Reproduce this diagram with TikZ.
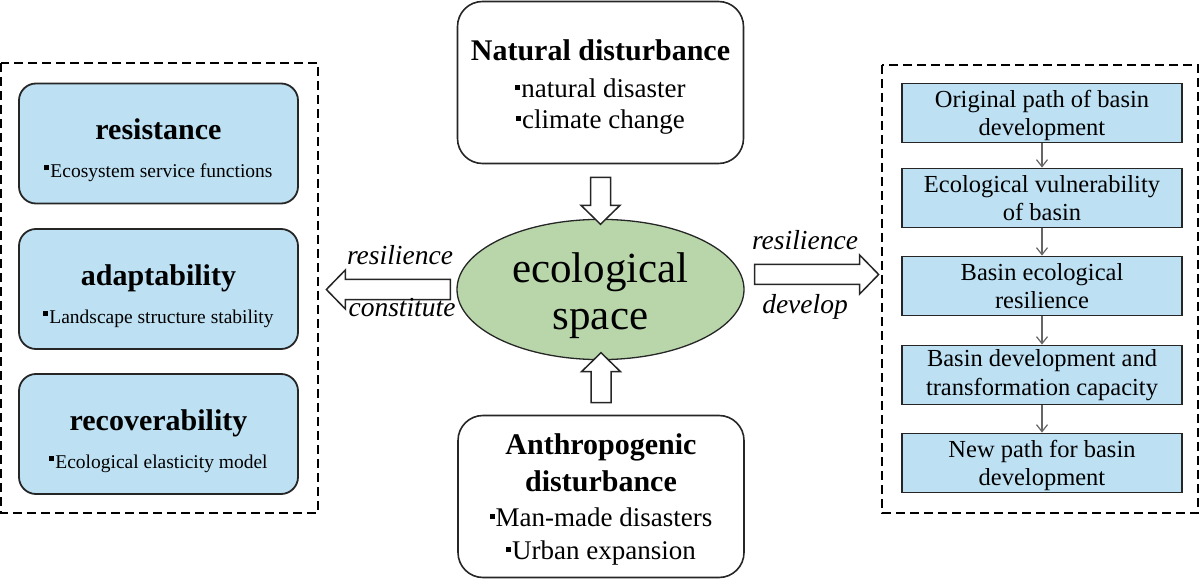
\documentclass[tikz,border=0pt]{standalone}
\usepackage{fontspec}
\setmainfont{Liberation Serif}
\usetikzlibrary{shapes.geometric,arrows.meta}

\definecolor{paleblue}{RGB}{189,225,243}
\definecolor{palegreen}{RGB}{184,214,170}

% small square bullet and a strut that lowers the text block
\newcommand{\sqb}{\raisebox{7.5pt}{\rule{5pt}{5pt}}\hspace{1pt}}
\newcommand{\topstrut}[1]{\rule{0pt}{#1}}

% hollow block arrow: start, rotation, length
\newcommand{\hollowarrow}[3]{%
  \draw[hollow, shift={(#1)}, rotate=#2] (0,-10) -- ({#3-19},-10) -- ({#3-19},-19.5) -- (#3,0)
    -- ({#3-19},19.5) -- ({#3-19},10) -- (0,10) -- cycle;}

\tikzset{
  frame/.style={draw, line width=1.6pt, dash pattern=on 9pt off 5pt},
  softbox/.style={
    draw=black!85,
    line width=1.8pt,
    rounded corners=17pt,
    fill=paleblue,
    minimum width=279pt,
    minimum height=120pt,
    align=center,
    font=\fontsize{19.5}{38}\selectfont,
  },
  distbox/.style={
    draw=black!85,
    line width=1.6pt,
    rounded corners=25pt,
    minimum width=286pt,
    minimum height=162pt,
    align=center,
  },
  stepbox/.style={
    draw=black!85,
    line width=1.8pt,
    fill=paleblue,
    minimum width=280pt,
    minimum height=59pt,
    inner sep=0pt,
    align=center,
    font=\fontsize{24.5}{28.5}\selectfont,
  },
  core/.style={ellipse, draw=black!85, fill=palegreen, line width=1.3pt,
    minimum width=287pt, minimum height=115pt, inner sep=0pt, align=center,
    font=\fontsize{43}{47}\selectfont},
  hollow/.style={draw=black!85, line width=1.5pt, fill=white},
  link/.style={-{Straight Barb[length=7pt,width=11pt]}, draw=black!60, line width=1.2pt},
  tag/.style={font=\fontsize{27.5}{30}\selectfont\itshape},
}

\begin{document}
\begin{tikzpicture}[x=1pt,y=-1pt]
  \useasboundingbox (0,0) rectangle (1200,580);

  % left: the three capacities
  \draw[frame] (1,63) rectangle (318,513);
  \node (resist) [softbox] at (158.5,143.5) {{\fontsize{30}{38}\selectfont\bfseries\topstrut{35pt}resistance}\\\sqb Ecosystem service functions};
  \node (adapt) [softbox] at (158.5,289) {{\fontsize{30}{38}\selectfont\bfseries\topstrut{35pt}adaptability}\\\sqb Landscape structure stability};
  \node (recover) [softbox] at (158.5,434) {{\fontsize{30}{38}\selectfont\bfseries\topstrut{35pt}recoverability}\\\sqb Ecological elasticity model};

  % centre
  \node (nat) [distbox, font=\fontsize{27}{34}\selectfont] at (600.5,82.5)
    {{\fontsize{30}{34}\selectfont\bfseries\topstrut{30pt}Natural disturbance}\\[3pt]\sqb natural disaster\\[-3pt]\sqb climate change};
  \node (eco) [core] at (600.5,289.5) {\topstrut{43pt}ecological\\space};
  \node (anthro) [distbox, font=\fontsize{27}{35}\selectfont] at (601,496.5)
    {{\fontsize{30}{35}\selectfont\bfseries\topstrut{27pt}Anthropogenic}\\[2pt]{\fontsize{30}{35}\selectfont\bfseries disturbance}\\\sqb Man-made disasters\\[-2pt]\sqb Urban expansion};

  \coordinate (natfoot) at ([yshift=-13pt]nat.south);
  \coordinate (anthead) at ([yshift=12pt]anthro.north);
  \coordinate (ecowest) at ([xshift=-6pt]eco.west);
  \coordinate (ecoeast) at ([xshift=10pt,yshift=15pt]eco.east);
  \hollowarrow{natfoot}{-90}{47}
  \hollowarrow{anthead}{90}{50}
  \hollowarrow{ecowest}{180}{124}
  \hollowarrow{ecoeast}{0}{124}

  \node (resil1) [tag] at (400,255) {resilience};
  \node (constit) [tag] at (402,308) {constitute};
  \node (resil2) [tag] at (805,240) {resilience};
  \node (devel) [tag] at (805,307) {develop};

  % right: development path
  \draw[frame] (882,65) rectangle (1198,513);
  \node (s1) [stepbox] at (1042,113) {\topstrut{22pt}Original path of basin\\development};
  \node (s2) [stepbox] at (1042,198) {Ecological vulnerability\\of basin};
  \node (s3) [stepbox] at (1042,286) {Basin ecological\\resilience};
  \node (s4) [stepbox] at (1042,375) {Basin development and\\transformation capacity};
  \node (s5) [stepbox] at (1042,463) {\topstrut{22pt}New path for basin\\development};
  \foreach \a/\b in {s1/s2,s2/s3,s3/s4,s4/s5}
    \draw[link] (\a) -- (\b);

\end{tikzpicture}
\end{document}
